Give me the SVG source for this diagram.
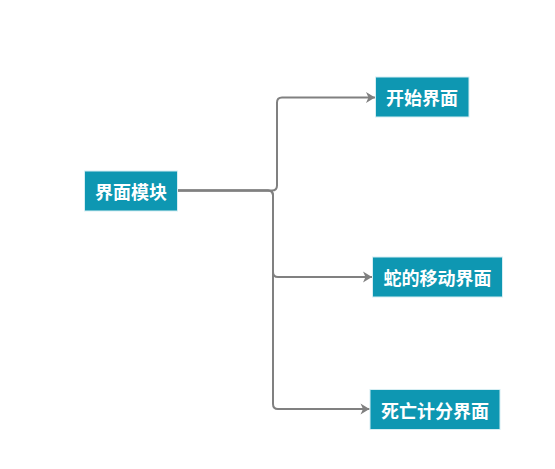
<svg xmlns="http://www.w3.org/2000/svg" width="555" height="469" viewBox="0 0 555 469">
<style>
.node rect{fill:#0e97b2;stroke:#d6eef3;stroke-width:1}
.node text{fill:#ffffff;font-family:"Noto Sans CJK SC","Liberation Sans",sans-serif;font-weight:bold;font-size:18px;text-anchor:middle;dominant-baseline:central}
.edge{fill:none;stroke:#808080;stroke-width:2;marker-end:url(#arr)}
</style>
<defs>
<marker id="arr" markerWidth="12" markerHeight="12" refX="10" refY="6" orient="auto" markerUnits="userSpaceOnUse">
<path d="M1,0.5 L10,6 L1,11.5 L3.5,6 Z" fill="#808080"/>
</marker>
</defs>
<rect width="555" height="469" fill="#ffffff"/>
<g id="connectors">
<path class="edge" d="M177.5,190.5 H272 Q277,190.5 277,185.5 V102.5 Q277,97.5 282,97.5 H375"/>
<path class="edge" d="M177.5,190.5 H268 Q273,190.5 273,195.5 V272 Q273,277 278,277 H372"/>
<path class="edge" d="M177.5,190.5 H268 Q273,190.5 273,195.5 V404 Q273,409 278,409 H369.5"/>
</g>
<g id="node-main" class="node">
<rect x="84.5" y="171" width="93" height="40"/>
<text x="131" y="191">界面模块</text>
</g>
<g id="node-start" class="node">
<rect x="375.5" y="77" width="93.5" height="40"/>
<text x="422" y="97">开始界面</text>
</g>
<g id="node-move" class="node">
<rect x="372.5" y="257" width="130" height="40"/>
<text x="437.5" y="277">蛇的移动界面</text>
</g>
<g id="node-death" class="node">
<rect x="370" y="389.5" width="130" height="40"/>
<text x="435" y="409.5">死亡计分界面</text>
</g>
</svg>
